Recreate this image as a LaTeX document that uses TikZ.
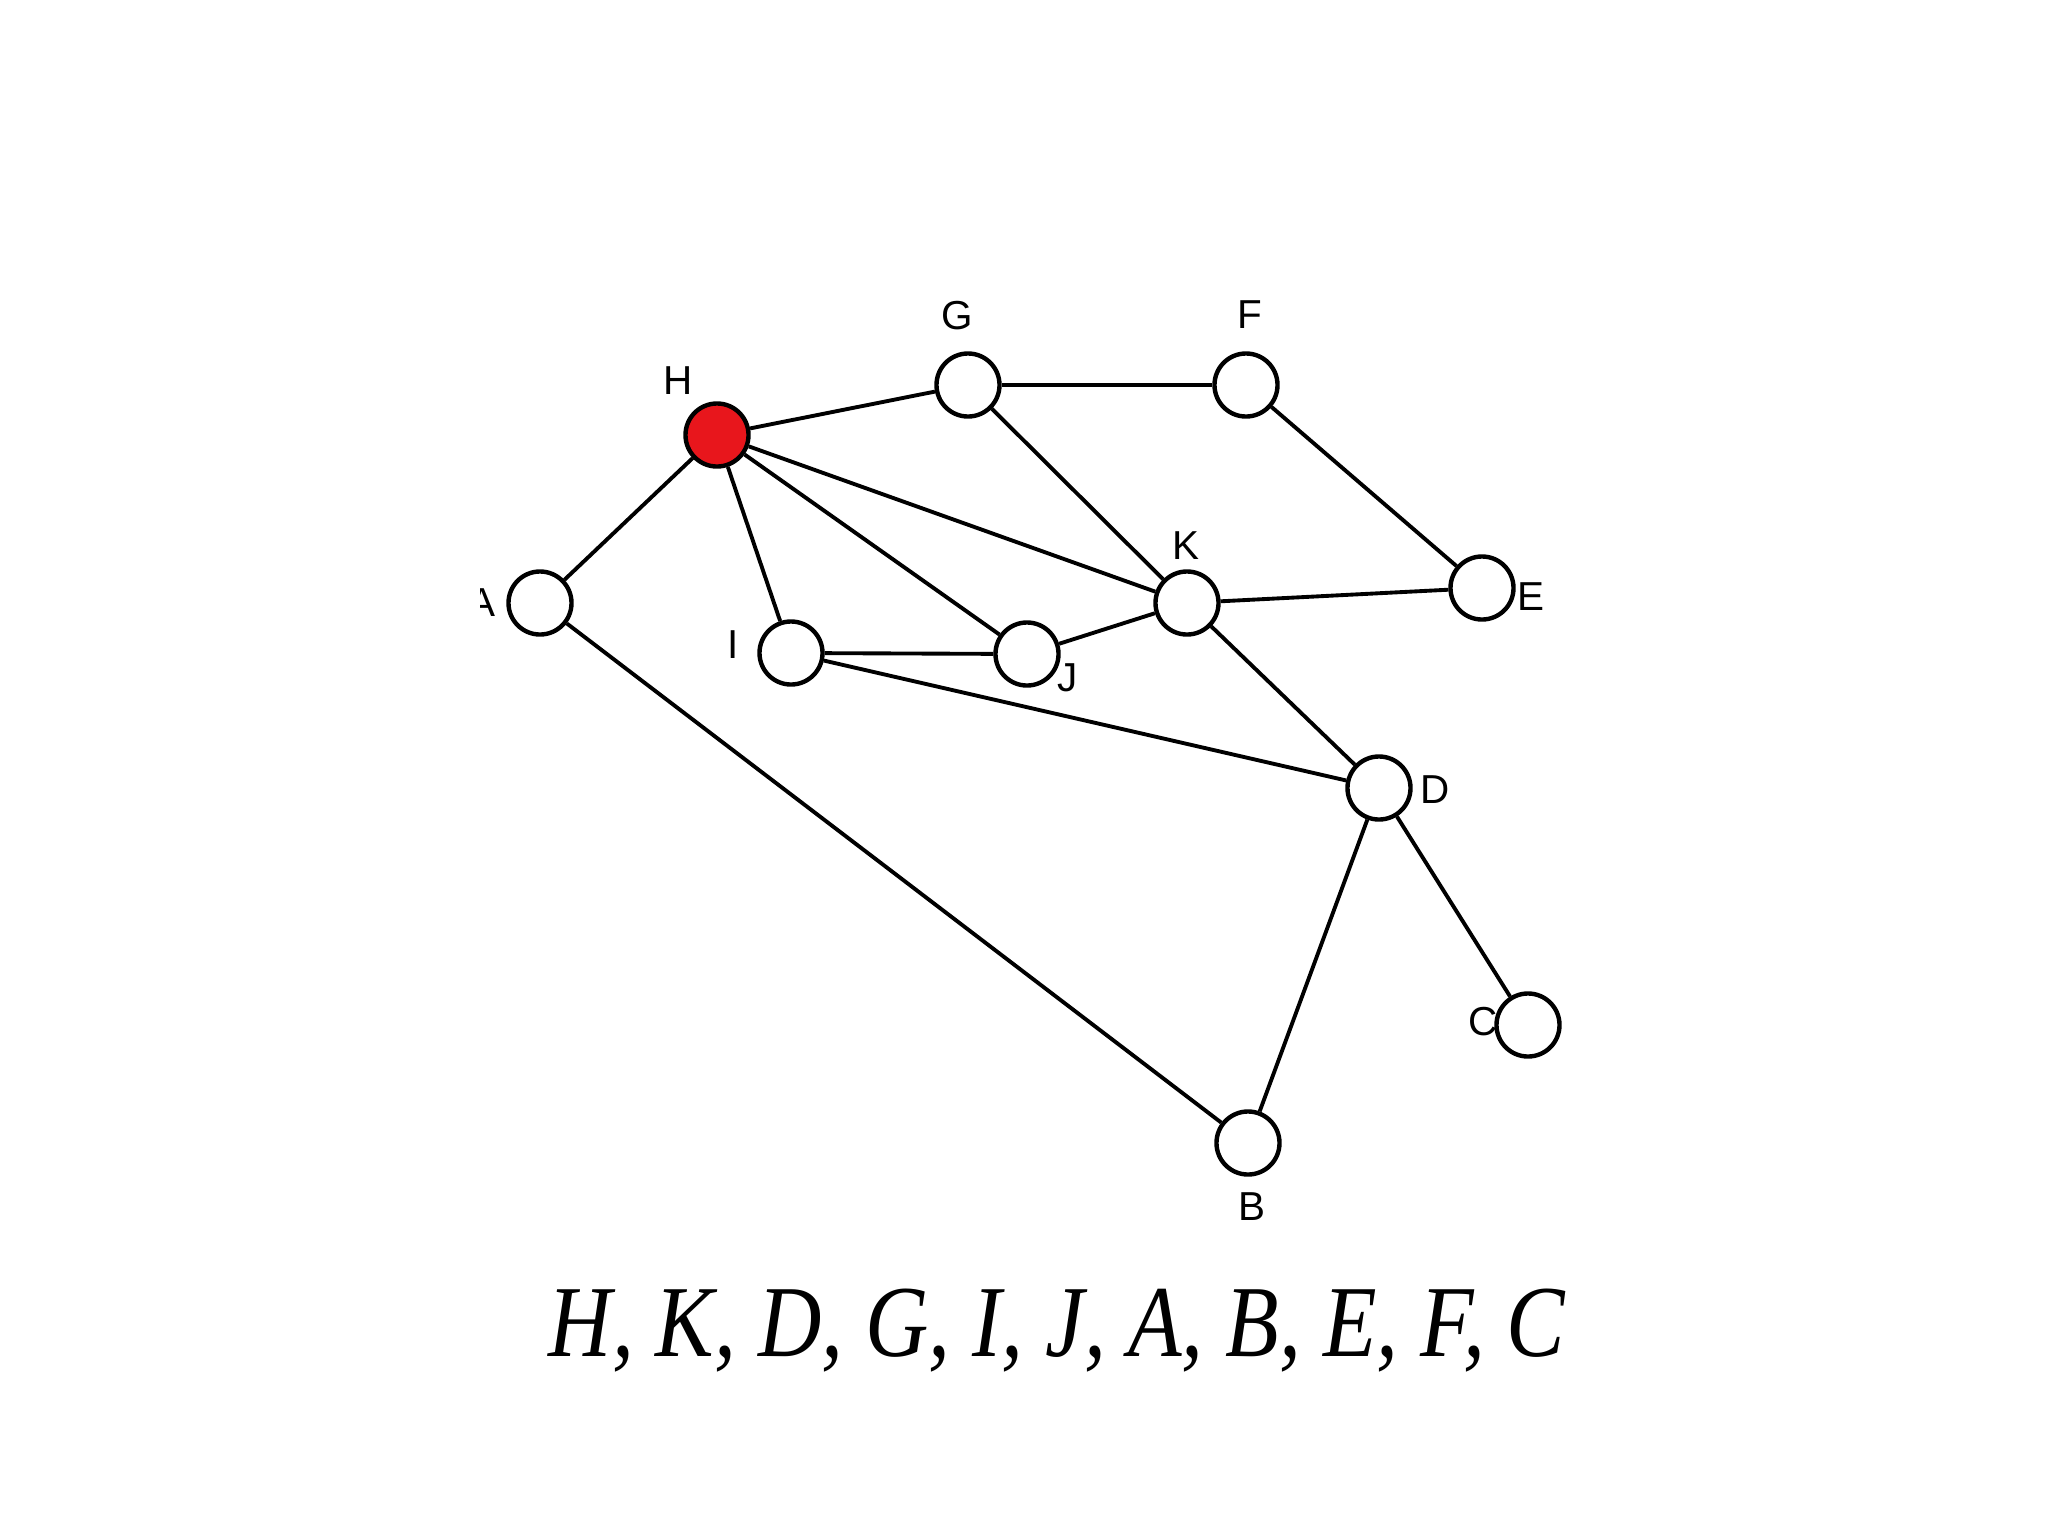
\documentclass[tikz,border=0pt]{standalone}
\usepackage{fontspec}
\setmainfont{Liberation Serif}
\newfontfamily\labfont{Liberation Sans}
\definecolor{nodered}{RGB}{232,22,28}
\begin{document}
\begin{tikzpicture}[x=0.01cm,y=-0.01cm,
  vtx/.style={circle,draw=black,line width=1.25pt,fill=white,minimum size=0.63cm,inner sep=0pt},
  lab/.style={font=\labfont\fontsize{11.5}{13}\selectfont,inner sep=0pt},
  edge/.style={line width=1.1pt}]
\useasboundingbox (0,0) rectangle (2048,1536);
\node[vtx,fill=nodered] (H) at (717,435) {};
\node[vtx] (G) at (968,385) {};
\node[vtx] (F) at (1246,385) {};
\node[vtx] (K) at (1187,603) {};
\node[vtx] (E) at (1482,588) {};
\node[vtx] (A) at (540,603) {};
\node[vtx] (I) at (791,653) {};
\node[vtx] (J) at (1027,654) {};
\node[vtx] (D) at (1379,788) {};
\node[vtx] (C) at (1528,1025) {};
\node[vtx] (B) at (1248,1143) {};
\draw[edge] (H) -- (G);
\draw[edge] (G) -- (F);
\draw[edge] (F) -- (E);
\draw[edge] (G) -- (K);
\draw[edge] (H) -- (K);
\draw[edge] (H) -- (J);
\draw[edge] (H) -- (I);
\draw[edge] (H) -- (A);
\draw[edge] (A) -- (B);
\draw[edge] (I) -- (J);
\draw[edge] (I) -- (D);
\draw[edge] (J) -- (K);
\draw[edge] (K) -- (E);
\draw[edge] (K) -- (D);
\draw[edge] (D) -- (B);
\draw[edge] (D) -- (C);
\node[lab] (lH) at (678,381) {H};
\node[lab] (lG) at (957,316) {G};
\node[lab] (lF) at (1250,315) {F};
\node[lab] (lK) at (1186,546) {K};
\node[lab] (lE) at (1531,597) {E};
\node[lab] (lI) at (733,645) {I};
\node[lab] (lJ) at (1068,678) {J};
\node[lab] (lD) at (1435,790) {D};
\node[lab] (lC) at (1483,1022) {C};
\node[lab] (lB) at (1252,1207) {B};
\begin{scope}
\clip (480,560) rectangle (510,650);
\node[lab] (lA) at (482,603) {A};
\end{scope}
\node[inner sep=0pt,anchor=base] (order) at (1057,1356) {\scalebox{0.86}[1]{\fontsize{29}{34}\selectfont\itshape H, K, D, G, I, J, A, B, E, F, C}};
\end{tikzpicture}
\end{document}
